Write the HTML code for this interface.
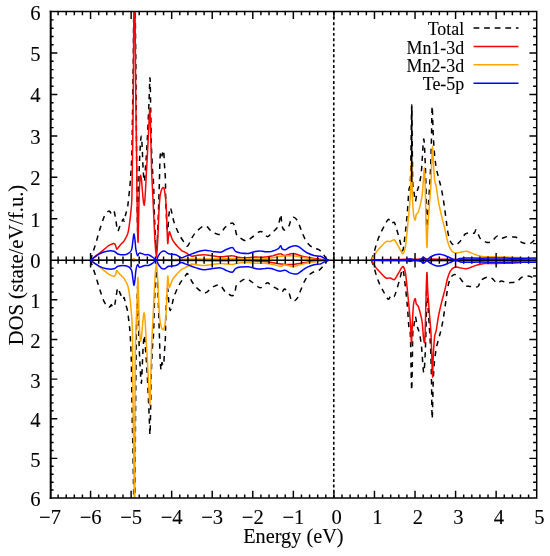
<!DOCTYPE html>
<html><head><meta charset="utf-8"><title>DOS</title>
<style>html,body{margin:0;padding:0;background:#fff}body{width:550px;height:556px;overflow:hidden}</style>
</head><body>
<svg width="550" height="556" viewBox="0 0 550 556" style="display:block">
<rect width="550" height="556" fill="#fff"/>
<defs>
<clipPath id="cu"><rect x="50.0" y="11.6" width="486.70000000000005" height="249.4"/></clipPath>
<clipPath id="cd"><rect x="50.0" y="259.4" width="486.70000000000005" height="238.60000000000002"/></clipPath>
</defs>
<g clip-path="url(#cu)">
<path d="M90.5 260.2 C90.9 258.9 92.1 255.1 93.0 252.2 C93.9 249.3 95.0 246.0 96.0 242.9 C96.9 239.7 97.8 236.2 98.7 233.1 C99.6 230.1 100.5 227.3 101.4 224.6 C102.3 221.9 103.1 219.1 104.0 217.1 C104.9 215.1 106.0 213.8 106.8 212.8 C107.5 211.8 107.9 211.3 108.5 211.1 C109.0 210.9 109.5 211.2 110.0 211.6 C110.4 212.0 110.9 213.6 111.3 213.6 C111.7 213.6 112.0 212.0 112.5 211.6 C112.9 211.2 113.5 210.5 114.0 211.1 C114.4 211.7 114.6 213.4 115.0 215.1 C115.3 216.8 115.5 218.4 116.0 221.1 C116.4 223.8 117.1 230.1 117.7 231.1 C118.2 232.1 118.8 228.5 119.5 227.1 C120.1 225.7 120.7 224.1 121.4 222.8 C122.0 221.5 122.7 219.4 123.2 219.1 C123.6 218.8 123.8 221.8 124.2 221.1 C124.5 220.4 124.9 217.5 125.5 215.1 C126.0 212.6 127.1 209.8 127.7 206.5 C128.2 203.1 128.5 199.0 129.0 195.0 C129.4 191.1 129.7 189.3 130.2 182.7 C130.6 176.1 131.4 167.6 131.8 155.4 C132.2 143.3 132.3 125.8 132.6 109.8 C132.8 93.9 133.0 77.2 133.3 59.7 C133.5 42.2 133.6 13.8 133.9 4.6 C134.2 -4.6 134.7 -4.6 135.1 4.6 C135.4 13.8 135.5 38.8 135.8 59.7 C136.0 80.6 136.2 108.2 136.4 129.9 C136.6 151.6 136.7 172.5 137.0 190.0 C137.2 207.6 137.5 233.5 137.8 235.1 C138.0 236.8 138.1 210.9 138.4 200.0 C138.6 189.2 138.9 178.7 139.2 170.0 C139.5 161.3 139.8 153.5 140.2 147.9 C140.5 142.3 141.0 136.0 141.4 136.3 C141.7 136.6 142.0 144.3 142.3 149.9 C142.6 155.5 142.8 164.7 143.2 170.0 C143.5 175.3 144.0 181.6 144.3 181.6 C144.7 181.6 144.9 176.5 145.3 170.0 C145.8 163.5 146.5 154.5 147.1 142.6 C147.8 130.7 148.7 109.6 149.1 98.8 C149.6 88.0 149.8 76.1 150.0 77.9 C150.3 79.8 150.5 99.0 150.7 109.8 C151.0 120.6 151.0 132.6 151.3 142.6 C151.6 152.6 152.2 163.3 152.5 170.0 C152.9 176.7 153.2 175.2 153.5 182.7 C153.9 190.2 154.0 203.8 154.4 215.1 C154.9 226.3 155.9 248.5 156.4 250.2 C157.0 251.8 157.5 234.5 157.9 225.1 C158.4 215.7 158.8 201.6 159.0 193.6 C159.3 185.7 159.4 183.4 159.5 177.3 C159.7 171.2 159.8 161.2 160.1 156.9 C160.4 152.6 161.0 151.7 161.3 151.5 C161.7 151.4 161.9 156.1 162.1 155.9 C162.4 155.8 162.7 150.9 162.9 150.4 C163.2 149.9 163.6 150.6 163.8 152.9 C164.1 155.2 164.2 160.1 164.4 164.2 C164.7 168.2 165.1 171.5 165.3 177.3 C165.6 183.1 165.5 191.6 165.7 199.0 C166.0 206.5 166.4 216.8 166.7 222.1 C167.1 227.4 167.4 231.8 167.7 230.6 C168.1 229.5 168.5 218.9 168.9 215.1 C169.4 211.3 169.7 208.0 170.2 207.7 C170.7 207.3 171.3 210.7 171.9 213.1 C172.6 215.4 172.7 218.1 173.9 221.7 C175.1 225.3 177.2 230.7 179.1 234.4 C181.1 238.2 184.1 242.3 185.5 244.2 C187.0 246.0 186.8 246.8 187.9 245.7 C189.0 244.5 190.8 239.8 192.2 237.4 C193.6 235.1 194.6 233.6 196.3 231.7 C198.1 229.9 201.1 227.3 202.8 226.4 C204.6 225.6 205.6 226.0 206.9 226.7 C208.3 227.5 209.6 229.7 211.0 230.8 C212.4 231.9 213.6 232.8 215.1 233.3 C216.6 233.9 218.4 235.1 220.0 234.1 C221.6 233.2 223.4 229.2 224.9 227.6 C226.4 226.0 227.7 225.4 228.9 224.6 C230.1 223.8 231.3 222.8 232.3 223.0 C233.3 223.2 234.0 224.1 234.7 225.9 C235.4 227.8 235.6 232.2 236.4 234.1 C237.2 236.1 238.0 236.3 239.6 237.4 C241.2 238.5 244.1 240.8 246.2 240.8 C248.2 240.8 249.8 238.9 251.9 237.4 C253.9 236.0 256.9 233.1 258.5 232.1 C260.1 231.2 260.6 231.3 261.7 231.7 C262.8 232.2 264.0 234.1 265.0 234.9 C266.0 235.8 266.8 236.9 267.9 236.6 C268.9 236.4 269.8 234.8 271.4 233.3 C272.9 231.8 275.8 229.7 277.2 227.6 C278.5 225.6 278.8 223.3 279.4 221.1 C280.0 218.9 280.3 213.7 280.8 214.5 C281.2 215.3 281.5 223.3 282.1 225.9 C282.7 228.5 283.4 229.9 284.5 230.0 C285.6 230.2 287.5 228.5 288.6 226.7 C289.7 224.9 290.2 221.0 291.1 219.4 C292.0 217.8 292.9 217.1 294.0 217.4 C295.1 217.7 296.4 219.0 297.6 221.0 C298.7 223.0 299.6 226.2 300.9 229.2 C302.1 232.2 303.6 236.5 305.0 239.0 C306.3 241.6 307.6 243.3 309.1 244.8 C310.6 246.3 312.3 247.3 314.0 248.1 C315.6 248.9 317.4 248.7 318.9 249.7 C320.4 250.6 321.7 252.3 323.0 253.8 C324.2 255.3 325.4 257.7 326.3 258.8 C327.1 259.9 327.6 260.0 327.9 260.2" fill="none" stroke="#000" stroke-width="1.5" stroke-linejoin="round" stroke-dasharray="5.3 4.9"/>
<path d="M371.3 260.2 C371.7 259.1 372.9 256.4 373.7 253.8 C374.5 251.2 375.3 247.8 376.2 244.8 C377.2 241.8 378.1 238.9 379.4 235.7 C380.8 232.6 382.8 228.6 384.3 225.9 C385.8 223.2 387.3 219.8 388.4 219.4 C389.5 219.0 390.0 223.0 390.9 223.5 C391.9 224.0 393.3 221.4 394.2 222.3 C395.2 223.3 395.7 226.1 396.6 229.2 C397.6 232.3 398.9 237.2 399.9 240.8 C400.9 244.3 401.9 251.1 402.7 250.6 C403.5 250.0 404.0 243.7 404.8 237.4 C405.6 231.1 406.6 220.7 407.3 212.8 C408.0 204.9 408.4 195.0 408.9 190.0 C409.4 185.1 410.0 189.7 410.3 183.0 C410.7 176.3 410.8 163.0 411.0 149.9 C411.2 136.9 411.5 104.8 411.7 104.8 C411.9 104.8 412.1 136.7 412.3 149.9 C412.5 163.1 412.5 177.0 412.8 184.0 C413.1 191.0 413.6 189.1 414.0 192.0 C414.4 194.9 414.9 201.4 415.4 201.4 C415.9 201.3 416.4 194.5 417.1 191.5 C417.8 188.5 418.8 186.9 419.5 183.3 C420.2 179.7 420.8 177.3 421.5 170.0 C422.2 162.6 423.1 139.9 423.7 139.1 C424.3 138.3 424.9 154.8 425.3 165.0 C425.7 175.1 426.0 188.9 426.3 200.0 C426.5 211.2 426.5 229.6 426.8 232.1 C427.0 234.6 427.4 221.1 427.8 215.1 C428.2 209.1 428.5 203.6 429.0 196.0 C429.4 188.5 430.1 179.3 430.5 170.0 C430.9 160.6 431.1 150.5 431.4 139.9 C431.7 129.3 431.8 106.3 432.2 106.3 C432.5 106.3 432.9 130.1 433.5 139.9 C434.1 149.7 434.8 158.3 435.8 165.0 C436.7 171.6 438.2 175.9 439.2 180.0 C440.2 184.1 440.8 185.7 441.6 189.8 C442.4 193.9 443.3 199.1 444.1 204.6 C444.9 210.0 445.9 218.0 446.5 222.6 C447.1 227.2 447.2 228.8 447.8 231.9 C448.4 235.0 449.2 238.9 450.3 241.2 C451.4 243.4 453.0 245.2 454.5 245.4 C456.0 245.5 457.7 244.0 459.5 242.1 C461.3 240.1 463.4 235.5 465.4 233.9 C467.3 232.4 469.7 233.0 471.2 232.8 C472.7 232.7 473.4 233.6 474.3 233.1 C475.1 232.6 475.4 229.5 476.2 229.8 C476.9 230.2 477.8 233.7 478.7 235.3 C479.5 237.0 479.8 238.4 481.2 239.5 C482.6 240.7 485.3 242.1 487.1 242.4 C488.9 242.6 490.4 242.2 492.1 241.2 C493.7 240.1 495.5 236.6 497.1 236.1 C498.6 235.7 499.6 238.3 501.3 238.3 C502.9 238.4 505.2 236.9 507.2 236.6 C509.1 236.4 511.3 236.8 513.0 237.0 C514.6 237.2 515.8 237.0 517.2 237.8 C518.5 238.7 519.8 241.1 521.3 242.1 C522.9 243.0 524.7 243.5 526.3 243.7 C528.0 243.8 529.7 243.8 531.3 242.9 C533.0 241.9 535.4 238.9 536.2 238.1" fill="none" stroke="#000" stroke-width="1.5" stroke-linejoin="round" stroke-dasharray="5.3 4.9"/>
<path d="M90.5 260.2 C91.4 259.4 93.9 257.4 96.0 255.7 C98.1 254.0 101.1 251.8 103.2 250.2 C105.3 248.5 107.2 246.7 108.6 245.7 C110.0 244.7 110.6 244.5 111.5 244.2 C112.4 243.8 113.3 243.3 114.0 243.5 C114.6 243.6 115.0 244.2 115.5 245.2 C115.9 246.1 116.3 248.8 116.8 249.2 C117.3 249.5 117.7 248.1 118.5 247.2 C119.2 246.3 120.4 244.8 121.4 243.8 C122.3 242.8 122.9 242.8 124.0 241.2 C125.0 239.5 126.8 236.2 127.7 233.7 C128.5 231.2 128.7 229.1 129.2 226.1 C129.6 223.1 130.0 219.9 130.5 215.6 C130.9 211.2 131.5 207.7 131.8 200.0 C132.1 192.4 132.1 181.7 132.3 170.0 C132.4 158.3 132.7 146.6 132.9 129.9 C133.1 113.2 133.3 90.6 133.5 69.7 C133.6 48.8 133.7 15.4 134.0 4.6 C134.2 -6.3 134.7 -6.3 135.0 4.6 C135.2 15.4 135.3 48.8 135.5 69.7 C135.7 90.6 135.9 113.2 136.2 129.9 C136.4 146.6 136.6 155.8 136.8 170.0 C136.9 184.2 137.1 203.1 137.3 215.1 C137.5 227.1 137.8 240.5 138.0 242.2 C138.2 243.8 138.3 233.0 138.5 225.1 C138.7 217.3 138.9 202.6 139.2 195.0 C139.4 187.5 139.7 183.3 140.0 180.0 C140.2 176.7 140.4 175.3 140.7 175.3 C140.9 175.3 141.2 177.2 141.5 180.0 C141.8 182.8 142.1 188.2 142.5 192.0 C142.8 195.9 143.3 201.0 143.6 203.1 C144.0 205.1 144.1 205.9 144.3 204.6 C144.6 203.2 144.9 200.5 145.2 195.0 C145.6 189.6 146.0 180.3 146.4 172.0 C146.9 163.6 147.5 153.6 147.9 144.9 C148.4 136.2 148.8 125.9 149.1 119.8 C149.5 113.8 149.6 108.0 149.8 108.8 C150.1 109.7 150.2 114.7 150.5 124.9 C150.8 135.1 151.3 159.1 151.6 170.0 C152.0 180.8 152.2 183.3 152.5 190.0 C152.9 196.7 153.1 201.7 153.5 210.1 C153.9 218.4 154.5 232.3 154.9 240.1 C155.4 248.0 156.0 257.2 156.4 257.2 C156.9 257.2 157.3 248.0 157.7 240.1 C158.2 232.3 158.6 217.5 159.0 210.1 C159.4 202.7 159.7 199.3 160.1 195.8 C160.6 192.4 161.2 190.7 161.7 189.3 C162.3 188.0 163.1 186.9 163.6 187.6 C164.2 188.3 164.6 190.8 165.0 193.6 C165.5 196.5 165.8 199.3 166.1 204.6 C166.5 209.8 166.7 218.7 166.9 225.1 C167.2 231.5 167.5 241.0 167.7 243.2 C168.0 245.3 168.1 240.0 168.3 238.1 C168.6 236.3 168.9 232.6 169.2 231.9 C169.6 231.3 169.9 232.9 170.4 234.1 C170.9 235.3 171.6 237.7 172.2 239.1 C172.9 240.6 173.5 241.4 174.4 242.7 C175.3 243.9 176.4 245.2 177.6 246.6 C178.8 247.9 180.5 249.7 181.7 250.7 C182.9 251.6 183.6 251.4 184.9 252.2 C186.3 252.9 188.6 254.5 189.7 255.2 C190.9 255.9 190.8 256.1 191.9 256.2 C193.0 256.2 194.2 255.7 196.3 255.5 C198.4 255.2 201.7 254.6 204.4 254.7 C207.1 254.7 209.9 255.4 212.6 255.8 C215.3 256.1 217.5 256.8 220.8 256.8 C224.1 256.8 229.6 255.7 232.3 255.8 C235.0 255.8 235.0 256.7 237.2 257.1 C239.4 257.4 242.4 257.9 245.4 257.9 C248.4 257.9 251.9 257.2 255.2 257.1 C258.4 257.0 261.9 257.3 264.9 257.1 C267.9 256.9 270.5 256.3 273.1 255.8 C275.7 255.2 278.5 253.8 280.4 253.8 C282.3 253.7 282.4 255.5 284.5 255.5 C286.5 255.4 290.2 253.5 292.7 253.5 C295.1 253.4 297.1 254.6 299.3 255.2 C301.4 255.8 303.3 256.6 305.8 257.1 C308.2 257.6 311.2 258.0 314.0 258.4 C316.7 258.8 319.7 259.3 322.2 259.6 C324.6 259.9 327.6 260.1 328.7 260.2" fill="none" stroke="#ff0000" stroke-width="1.5" stroke-linejoin="round"/>
<path d="M371.3 260.2 C372.7 260.1 375.1 259.8 379.8 259.7 C384.6 259.6 394.8 259.6 399.8 259.5 C404.8 259.4 406.5 259.2 409.8 259.2 C413.1 259.1 416.5 259.2 419.8 259.2 C423.1 259.2 426.5 259.0 429.8 259.0 C433.1 259.0 436.5 259.1 439.8 259.2 C443.1 259.3 444.8 259.3 449.8 259.4 C454.8 259.4 461.4 259.5 469.8 259.5 C478.1 259.5 488.7 259.5 499.8 259.5 C510.8 259.5 530.2 259.5 536.2 259.5" fill="none" stroke="#ff0000" stroke-width="1.5" stroke-linejoin="round"/>
<path d="M90.5 260.2 C93.7 260.2 103.4 260.1 110.0 260.1 C116.5 260.1 126.2 260.1 130.0 260.0 C132.5 259.9 131.8 259.9 132.5 259.7 C133.1 259.4 133.5 258.5 134.0 258.5 C134.5 258.5 134.5 259.4 135.5 259.7 C136.5 259.9 137.5 260.0 140.0 260.0 C142.4 260.0 146.3 259.9 149.9 259.9 C153.6 259.9 158.3 259.8 161.9 259.8 C165.6 259.8 168.9 259.8 171.9 259.7 C174.9 259.6 175.3 259.4 179.9 259.3 C184.6 259.2 193.3 259.1 199.9 259.0 C206.6 258.9 213.2 258.7 219.9 258.7 C226.6 258.7 232.4 259.0 239.9 259.0 C247.4 259.0 258.0 259.2 264.9 258.8 C271.8 258.3 276.6 256.8 281.3 256.3 C285.9 255.8 289.4 255.7 292.7 255.8 C295.9 255.9 297.3 256.5 300.9 257.1 C304.4 257.7 309.5 258.7 314.0 259.2 C318.5 259.7 325.5 260.0 327.9 260.2" fill="none" stroke="#ffa500" stroke-width="1.5" stroke-linejoin="round"/>
<path d="M371.3 260.2 C372.1 258.9 374.6 254.5 376.2 252.2 C377.9 249.9 379.5 248.2 381.1 246.5 C382.8 244.7 384.5 242.4 386.0 241.6 C387.5 240.7 388.8 241.8 390.1 241.6 C391.5 241.3 393.1 239.6 394.2 239.8 C395.3 240.1 395.5 241.4 396.6 243.2 C397.7 244.9 399.6 248.9 400.7 250.6 C401.8 252.3 402.4 254.3 403.2 253.5 C404.0 252.7 404.8 251.1 405.6 245.7 C406.4 240.3 407.3 229.8 408.1 221.0 C408.9 212.2 410.0 203.1 410.5 193.1 C411.1 183.2 411.1 161.8 411.4 161.3 C411.7 160.7 411.9 181.4 412.2 190.0 C412.5 198.6 412.9 207.8 413.4 212.8 C413.9 217.8 414.6 219.8 415.1 220.1 C415.6 220.4 415.8 215.7 416.3 214.5 C416.8 213.3 417.4 213.9 417.9 212.8 C418.4 211.7 418.8 210.6 419.5 207.9 C420.2 205.1 421.4 201.1 422.0 196.4 C422.7 191.8 423.0 184.8 423.4 180.0 C423.8 175.2 424.0 167.8 424.3 167.8 C424.6 167.8 424.7 171.3 425.0 180.0 C425.3 188.7 425.7 208.9 426.0 220.1 C426.3 231.3 426.6 245.7 426.9 247.3 C427.2 248.8 427.3 236.3 427.7 229.2 C428.1 222.1 428.9 211.9 429.4 204.6 C429.9 197.2 430.5 192.4 430.9 185.0 C431.3 177.6 431.5 166.5 431.8 159.9 C432.1 153.4 432.2 145.9 432.5 145.9 C432.7 145.9 432.9 154.3 433.3 159.9 C433.6 165.6 434.1 175.5 434.6 180.0 C435.1 184.5 435.7 183.5 436.3 187.0 C436.9 190.6 437.5 196.5 438.4 201.4 C439.3 206.2 440.5 211.4 441.6 216.1 C442.7 220.7 443.9 225.1 444.9 229.2 C445.9 233.3 446.5 237.5 447.4 240.8 C448.3 244.0 449.1 246.7 450.3 248.8 C451.5 250.8 453.0 252.3 454.5 252.9 C456.0 253.5 457.5 252.6 459.5 252.4 C461.4 252.1 464.2 251.2 466.2 251.3 C468.1 251.4 469.2 252.2 471.2 252.9 C473.1 253.6 475.6 254.8 477.9 255.5 C480.1 256.1 481.5 256.6 484.6 256.8 C487.6 257.0 492.6 256.7 496.3 256.8 C499.9 256.8 502.6 257.0 506.3 257.1 C509.9 257.2 514.6 257.2 518.0 257.5 C521.3 257.8 523.3 258.6 526.3 258.8 C529.4 259.0 534.6 258.8 536.2 258.8" fill="none" stroke="#ffa500" stroke-width="1.5" stroke-linejoin="round"/>
<path d="M333.76 11.6 V260.2" stroke="#000" stroke-width="1.6" stroke-dasharray="2.9 2.44" fill="none"/>
<path d="M411.74 105.5 V182" stroke="#000" stroke-width="1.5" fill="none"/>
</g>
<g clip-path="url(#cd)">
<path d="M90.5 260.2 C90.9 261.5 92.1 265.1 93.0 267.9 C93.9 270.6 95.0 273.8 96.0 276.8 C96.9 279.8 97.8 283.2 98.7 286.1 C99.6 289.0 100.5 291.7 101.4 294.2 C102.3 296.8 103.1 299.5 104.0 301.4 C104.9 303.3 106.0 304.6 106.8 305.6 C107.5 306.5 107.9 307.0 108.5 307.2 C109.0 307.4 109.5 307.1 110.0 306.7 C110.4 306.3 110.9 304.8 111.3 304.8 C111.7 304.8 112.0 306.3 112.5 306.7 C112.9 307.1 113.5 307.7 114.0 307.2 C114.4 306.6 114.6 305.0 115.0 303.4 C115.3 301.8 115.5 300.2 116.0 297.6 C116.4 295.0 117.1 289.0 117.7 288.0 C118.2 287.1 118.8 290.5 119.5 291.8 C120.1 293.2 120.7 294.7 121.4 296.0 C122.0 297.2 122.7 299.2 123.2 299.5 C123.6 299.8 123.8 297.0 124.2 297.6 C124.5 298.2 124.9 301.0 125.5 303.4 C126.0 305.7 127.1 308.4 127.7 311.6 C128.2 314.8 128.5 318.7 129.0 322.5 C129.4 326.3 129.8 328.0 130.2 334.3 C130.5 340.6 131.0 348.8 131.3 360.4 C131.6 372.0 131.7 388.8 132.0 404.0 C132.2 419.3 132.6 435.2 133.0 452.0 C133.3 468.8 133.6 495.9 134.0 504.7 C134.3 513.5 134.7 513.5 135.0 504.7 C135.2 495.9 135.1 472.0 135.3 452.0 C135.4 432.0 135.6 405.6 135.8 384.9 C136.0 364.1 136.1 344.1 136.5 327.3 C136.8 310.5 137.4 285.8 137.8 284.2 C138.1 282.6 138.1 307.3 138.4 317.7 C138.6 328.1 138.9 338.2 139.2 346.5 C139.5 354.8 139.8 361.5 140.2 367.6 C140.5 373.7 141.0 383.5 141.4 383.1 C141.7 382.8 142.0 371.8 142.3 365.7 C142.6 359.6 142.8 351.6 143.2 346.5 C143.5 341.5 144.0 335.4 144.3 335.4 C144.7 335.4 144.9 340.3 145.3 346.5 C145.8 352.7 146.5 361.3 147.1 372.7 C147.8 384.0 148.7 404.3 149.1 414.6 C149.6 424.9 149.8 436.3 150.0 434.5 C150.3 432.8 150.5 414.4 150.7 404.0 C151.0 393.7 151.0 382.3 151.3 372.7 C151.6 363.1 152.2 352.9 152.5 346.5 C152.9 340.1 153.2 341.5 153.5 334.3 C153.9 327.1 154.0 314.1 154.4 303.4 C154.9 292.6 155.9 271.4 156.4 269.8 C157.0 268.2 157.5 284.7 157.9 293.8 C158.4 302.8 158.8 316.3 159.0 323.9 C159.3 331.5 159.4 333.7 159.5 339.5 C159.7 345.4 159.9 353.9 160.1 359.0 C160.4 364.1 160.8 369.4 161.1 370.0 C161.4 370.6 161.6 363.6 161.9 362.8 C162.2 362.0 162.6 365.2 162.9 365.2 C163.3 365.2 163.6 365.0 163.8 362.8 C164.1 360.6 164.2 356.0 164.4 352.1 C164.7 348.2 165.1 345.1 165.3 339.5 C165.6 333.9 165.5 325.8 165.7 318.7 C166.0 311.6 166.4 301.7 166.7 296.6 C167.1 291.6 167.4 287.4 167.7 288.5 C168.1 289.6 168.5 299.7 168.9 303.4 C169.4 307.0 169.7 310.1 170.2 310.4 C170.7 310.8 171.3 307.5 171.9 305.3 C172.6 303.0 172.7 300.4 173.9 297.0 C175.1 293.6 177.2 288.4 179.1 284.8 C181.1 281.3 184.1 277.3 185.5 275.5 C187.0 273.8 186.8 273.0 187.9 274.1 C189.0 275.2 190.8 279.7 192.2 282.0 C193.6 284.2 194.6 285.7 196.3 287.4 C198.1 289.2 201.1 291.7 202.8 292.5 C204.6 293.3 205.6 292.9 206.9 292.2 C208.3 291.5 209.6 289.4 211.0 288.3 C212.4 287.2 213.6 286.4 215.1 285.9 C216.6 285.4 218.4 284.2 220.0 285.1 C221.6 286.0 223.4 289.8 224.9 291.4 C226.4 292.9 227.7 293.5 228.9 294.2 C230.1 295.0 231.3 296.0 232.3 295.8 C233.3 295.6 234.0 294.8 234.7 293.0 C235.4 291.2 235.6 287.0 236.4 285.1 C237.2 283.3 238.0 283.0 239.6 282.0 C241.2 280.9 244.1 278.8 246.2 278.8 C248.2 278.8 249.8 280.6 251.9 282.0 C253.9 283.3 256.9 286.1 258.5 287.1 C260.1 288.0 260.6 287.9 261.7 287.4 C262.8 287.0 264.0 285.1 265.0 284.4 C266.0 283.6 266.8 282.5 267.9 282.7 C268.9 283.0 269.8 284.9 271.4 285.9 C272.9 286.9 275.7 287.8 277.2 288.8 C278.7 289.8 279.4 291.6 280.4 291.9 C281.3 292.3 282.2 291.6 282.9 291.1 C283.6 290.6 283.5 288.9 284.5 289.1 C285.4 289.3 287.5 290.5 288.6 292.2 C289.7 293.9 290.2 297.7 291.1 299.2 C292.0 300.7 292.9 301.4 294.0 301.1 C295.1 300.9 296.4 299.6 297.6 297.7 C298.7 295.8 299.6 292.7 300.9 289.8 C302.1 287.0 303.6 282.9 305.0 280.4 C306.3 278.0 307.6 276.4 309.1 275.0 C310.6 273.5 312.3 272.6 314.0 271.8 C315.6 271.0 317.4 271.2 318.9 270.3 C320.4 269.4 321.7 267.8 323.0 266.3 C324.2 264.9 325.4 262.6 326.3 261.5 C327.1 260.5 327.6 260.4 327.9 260.2" fill="none" stroke="#000" stroke-width="1.5" stroke-linejoin="round" stroke-dasharray="5.3 4.9"/>
<path d="M371.3 260.2 C371.7 261.2 372.9 263.9 373.7 266.3 C374.5 268.8 375.3 272.1 376.2 275.0 C377.2 277.8 378.1 280.6 379.4 283.6 C380.8 286.6 382.8 290.4 384.3 293.0 C385.8 295.6 387.3 298.8 388.4 299.2 C389.5 299.6 390.0 295.8 390.9 295.3 C391.9 294.8 393.3 297.4 394.2 296.4 C395.2 295.5 395.7 292.8 396.6 289.8 C397.6 286.9 398.9 282.2 399.9 278.8 C400.9 275.4 401.9 268.9 402.7 269.4 C403.5 269.9 404.0 275.9 404.8 282.0 C405.6 288.0 406.6 298.0 407.3 305.6 C408.0 313.1 408.4 322.6 408.9 327.3 C409.4 332.1 410.0 327.6 410.3 334.0 C410.7 340.4 410.8 356.3 411.0 365.7 C411.2 375.1 411.5 390.2 411.7 390.2 C411.9 390.2 412.1 375.2 412.3 365.7 C412.5 356.2 412.5 339.8 412.8 333.1 C413.1 326.4 413.6 328.2 414.0 325.4 C414.4 322.6 414.9 316.4 415.4 316.5 C415.9 316.6 416.4 323.0 417.1 325.9 C417.8 328.8 418.8 330.3 419.5 333.8 C420.2 337.2 420.8 340.1 421.5 346.5 C422.2 352.9 423.1 371.6 423.7 372.4 C424.3 373.2 424.9 360.4 425.3 351.3 C425.7 342.2 426.0 328.4 426.3 317.7 C426.5 307.0 426.5 289.4 426.8 287.1 C427.0 284.7 427.4 297.6 427.8 303.4 C428.2 309.1 428.5 314.4 429.0 321.6 C429.4 328.8 430.1 337.6 430.5 346.5 C430.9 355.5 431.1 363.2 431.4 375.3 C431.7 387.3 431.8 418.7 432.2 418.7 C432.5 418.7 432.9 386.5 433.5 375.3 C434.1 364.0 434.8 357.7 435.8 351.3 C436.7 344.9 438.2 340.9 439.2 336.9 C440.2 333.0 440.8 331.4 441.6 327.5 C442.4 323.6 443.3 318.6 444.1 313.4 C444.9 308.2 445.9 300.5 446.5 296.2 C447.1 291.8 447.2 290.2 447.8 287.2 C448.4 284.3 449.2 280.6 450.3 278.4 C451.4 276.3 453.0 274.5 454.5 274.4 C456.0 274.2 457.7 275.7 459.5 277.6 C461.3 279.4 463.8 283.9 465.4 285.3 C466.9 286.8 467.4 286.0 468.8 286.2 C470.1 286.4 471.8 286.6 473.4 286.7 C474.9 286.7 476.8 287.4 478.0 286.5 C479.1 285.6 479.7 282.4 480.3 281.3 C480.8 280.2 480.3 280.6 481.2 280.0 C482.3 279.3 485.3 277.5 487.1 277.3 C488.9 277.0 490.4 277.4 492.1 278.4 C493.7 279.4 495.5 282.8 497.1 283.2 C498.6 283.7 499.6 281.2 501.3 281.1 C502.9 281.0 505.2 282.5 507.2 282.7 C509.1 282.9 511.3 282.5 513.0 282.4 C514.6 282.2 515.8 282.4 517.2 281.6 C518.5 280.8 519.8 278.5 521.3 277.6 C522.9 276.6 524.7 276.2 526.3 276.0 C528.0 275.9 529.7 275.9 531.3 276.8 C533.0 277.7 535.4 280.5 536.2 281.3" fill="none" stroke="#000" stroke-width="1.5" stroke-linejoin="round" stroke-dasharray="5.3 4.9"/>
<path d="M90.5 260.2 C93.7 260.2 103.4 260.2 110.0 260.2 C116.5 260.2 126.2 260.2 130.0 260.3 C132.5 260.3 131.8 260.3 132.5 260.4 C133.1 260.5 133.5 260.8 134.0 260.8 C134.5 260.8 134.5 260.5 135.5 260.4 C136.5 260.3 137.5 260.3 140.0 260.3 C142.4 260.3 146.3 260.3 149.9 260.3 C153.6 260.3 158.3 260.3 161.9 260.3 C165.6 260.3 168.9 260.3 171.9 260.4 C174.9 260.4 175.3 260.5 179.9 260.5 C184.6 260.5 193.3 260.6 199.9 260.6 C206.6 260.6 213.2 260.7 219.9 260.7 C226.6 260.7 232.4 260.5 239.9 260.6 C247.4 260.7 258.0 261.0 264.9 261.5 C271.8 262.1 276.6 263.5 281.3 263.9 C285.9 264.4 289.4 264.5 292.7 264.4 C295.9 264.3 297.3 263.7 300.9 263.2 C304.4 262.6 309.5 261.7 314.0 261.2 C318.5 260.7 325.5 260.4 327.9 260.2" fill="none" stroke="#ff0000" stroke-width="1.5" stroke-linejoin="round"/>
<path d="M371.3 260.2 C372.1 261.5 374.6 265.7 376.2 267.9 C377.9 270.1 379.5 271.6 381.1 273.3 C382.8 275.0 384.5 277.3 386.0 278.0 C387.5 278.8 388.8 277.8 390.1 278.0 C391.5 278.3 393.1 279.9 394.2 279.7 C395.3 279.4 395.5 278.2 396.6 276.5 C397.7 274.8 399.6 271.1 400.7 269.4 C401.8 267.8 402.4 265.8 403.2 266.6 C404.0 267.4 404.8 268.9 405.6 274.1 C406.4 279.3 407.3 289.3 408.1 297.7 C408.9 306.1 410.0 316.7 410.5 324.4 C411.1 332.0 411.1 342.9 411.4 343.4 C411.7 343.9 411.9 333.6 412.2 327.3 C412.5 321.0 412.9 310.4 413.4 305.6 C413.9 300.8 414.6 298.8 415.1 298.6 C415.6 298.3 415.8 302.8 416.3 303.9 C416.8 305.1 417.4 304.5 417.9 305.6 C418.4 306.6 418.8 307.7 419.5 310.3 C420.2 312.9 421.4 316.7 422.0 321.2 C422.7 325.6 423.0 333.3 423.4 336.9 C423.8 340.5 424.0 342.7 424.3 342.7 C424.6 342.7 424.7 344.3 425.0 336.9 C425.3 329.6 425.7 309.3 426.0 298.6 C426.3 287.8 426.6 274.0 426.9 272.6 C427.2 271.1 427.3 283.0 427.7 289.8 C428.1 296.6 428.9 306.4 429.4 313.4 C429.9 320.5 430.5 325.0 430.9 332.1 C431.3 339.2 431.5 348.5 431.8 356.1 C432.1 363.7 432.2 377.5 432.5 377.5 C432.7 377.5 432.9 362.9 433.3 356.1 C433.6 349.3 434.1 341.2 434.6 336.9 C435.1 332.6 435.7 333.6 436.3 330.2 C436.9 326.8 437.5 321.1 438.4 316.5 C439.3 311.9 440.5 306.8 441.6 302.4 C442.7 298.0 443.9 293.8 444.9 289.8 C445.9 285.9 446.5 281.9 447.4 278.8 C448.3 275.7 449.1 273.1 450.3 271.1 C451.5 269.2 453.0 267.8 454.5 267.2 C456.0 266.6 457.5 267.4 459.5 267.7 C461.4 267.9 464.2 268.8 466.2 268.7 C468.1 268.7 469.2 267.9 471.2 267.2 C473.1 266.5 475.6 265.3 477.9 264.7 C480.1 264.1 481.5 263.7 484.6 263.5 C487.6 263.3 492.6 263.5 496.3 263.5 C499.9 263.4 502.6 263.3 506.3 263.2 C509.9 263.1 514.6 263.1 518.0 262.8 C521.3 262.5 523.3 261.8 526.3 261.5 C529.4 261.3 534.6 261.5 536.2 261.5" fill="none" stroke="#ff0000" stroke-width="1.5" stroke-linejoin="round"/>
<path d="M90.5 260.2 C91.4 260.9 93.9 262.9 96.0 264.5 C98.1 266.1 101.1 268.2 103.2 269.8 C105.3 271.4 107.2 273.1 108.6 274.1 C110.0 275.1 110.6 275.2 111.5 275.5 C112.4 275.9 113.3 276.4 114.0 276.2 C114.6 276.1 115.0 275.5 115.5 274.6 C115.9 273.7 116.3 271.1 116.8 270.7 C117.3 270.4 117.7 271.8 118.5 272.7 C119.2 273.5 120.4 275.0 121.4 275.9 C122.3 276.9 122.9 276.8 124.0 278.4 C125.0 280.0 126.8 283.1 127.7 285.5 C128.5 287.9 128.7 289.9 129.2 292.8 C129.6 295.7 130.0 298.7 130.5 302.9 C130.9 307.0 131.4 313.3 131.8 317.7 C132.1 322.2 132.2 324.9 132.4 329.7 C132.5 334.5 132.5 338.1 132.6 346.5 C132.6 354.9 132.6 364.1 132.8 380.1 C132.9 396.1 133.3 422.7 133.6 442.4 C133.8 462.1 134.1 487.6 134.3 498.0 C134.4 508.4 134.4 503.6 134.5 504.7 C134.5 505.9 134.6 505.9 134.7 504.7 C134.7 503.6 134.7 508.4 134.8 498.0 C134.8 487.6 134.9 462.1 135.0 442.4 C135.0 422.7 135.0 396.1 135.1 380.1 C135.1 364.1 135.2 354.9 135.4 346.5 C135.5 338.1 135.7 336.1 136.0 329.7 C136.2 323.3 136.5 314.9 136.8 308.1 C137.0 301.4 137.3 294.1 137.5 289.0 C137.7 283.9 137.8 276.7 138.0 277.5 C138.1 278.3 138.3 286.3 138.5 293.8 C138.7 301.3 138.9 315.3 139.2 322.5 C139.4 329.7 139.7 333.8 140.0 336.9 C140.2 340.1 140.4 341.4 140.7 341.4 C140.9 341.4 141.2 339.6 141.5 336.9 C141.8 334.2 142.1 329.1 142.5 325.4 C142.8 321.7 143.3 316.9 143.6 314.9 C144.0 312.9 144.1 312.1 144.3 313.4 C144.6 314.7 144.9 317.3 145.2 322.5 C145.6 327.7 146.0 336.6 146.4 344.6 C146.9 352.6 147.5 362.2 147.9 370.5 C148.4 378.8 148.8 388.7 149.1 394.5 C149.5 400.2 149.6 405.8 149.8 405.0 C150.1 404.2 150.2 399.4 150.5 389.7 C150.8 379.9 151.3 356.9 151.6 346.5 C152.0 336.1 152.2 333.7 152.5 327.3 C152.9 320.9 153.1 316.1 153.5 308.1 C153.9 300.2 154.5 286.9 154.9 279.4 C155.4 271.9 156.0 263.1 156.4 263.1 C156.9 263.1 157.3 271.9 157.7 279.4 C158.2 286.9 158.6 301.1 159.0 308.1 C159.4 315.2 159.7 318.5 160.1 321.8 C160.6 325.1 161.2 326.7 161.7 328.0 C162.3 329.3 163.1 330.3 163.6 329.6 C164.2 328.9 164.6 326.6 165.0 323.9 C165.5 321.2 165.8 318.4 166.1 313.4 C166.5 308.4 166.7 299.9 166.9 293.8 C167.2 287.6 167.5 278.6 167.7 276.5 C168.0 274.4 168.1 279.5 168.3 281.3 C168.6 283.1 168.9 286.6 169.2 287.2 C169.6 287.9 169.9 286.3 170.4 285.1 C170.9 284.0 171.6 281.7 172.2 280.3 C172.9 279.0 173.5 278.2 174.4 277.0 C175.3 275.8 176.4 274.5 177.6 273.2 C178.8 272.0 180.5 270.2 181.7 269.3 C182.9 268.4 183.6 268.6 184.9 267.9 C186.3 267.2 188.6 265.6 189.7 265.0 C190.9 264.4 190.8 264.1 191.9 264.0 C193.0 264.0 194.2 264.5 196.3 264.7 C198.4 264.9 201.7 265.5 204.4 265.5 C207.1 265.4 209.9 264.8 212.6 264.4 C215.3 264.1 217.5 263.5 220.8 263.5 C224.1 263.5 229.6 264.5 232.3 264.4 C235.0 264.4 235.0 263.5 237.2 263.2 C239.4 262.8 242.4 262.4 245.4 262.4 C248.4 262.4 251.9 263.0 255.2 263.2 C258.4 263.3 261.9 263.0 264.9 263.2 C267.9 263.4 270.5 263.9 273.1 264.4 C275.7 264.9 278.5 266.3 280.4 266.3 C282.3 266.4 282.4 264.7 284.5 264.7 C286.5 264.8 290.2 266.6 292.7 266.6 C295.1 266.7 297.1 265.6 299.3 265.0 C301.4 264.4 303.3 263.7 305.8 263.2 C308.2 262.7 311.2 262.3 314.0 261.9 C316.7 261.5 319.7 261.1 322.2 260.8 C324.6 260.5 327.6 260.3 328.7 260.2" fill="none" stroke="#ffa500" stroke-width="1.5" stroke-linejoin="round"/>
<path d="M371.3 260.2 C372.7 260.3 375.1 260.6 379.8 260.7 C384.6 260.8 394.8 260.8 399.8 260.9 C404.8 261.0 406.5 261.1 409.8 261.2 C413.1 261.2 416.5 261.1 419.8 261.2 C423.1 261.2 426.5 261.4 429.8 261.4 C433.1 261.4 436.5 261.2 439.8 261.2 C443.1 261.1 444.8 261.0 449.8 261.0 C454.8 260.9 461.4 260.9 469.8 260.9 C478.1 260.9 488.7 260.9 499.8 260.9 C510.8 260.9 530.2 260.9 536.2 260.9" fill="none" stroke="#ffa500" stroke-width="1.5" stroke-linejoin="round"/>
<path d="M333.76 260.2 V498.0" stroke="#000" stroke-width="1.6" stroke-dasharray="2.9 2.44" fill="none"/>
</g>
<path d="M49.7 11.6 H536.7 V498.0 H49.7" fill="none" stroke="#000" stroke-width="1.5" stroke-linejoin="miter"/>
<path d="M50.7 10.85 V498.75" stroke="#000" stroke-width="2" fill="none"/>
<path d="M50.0 260.2 H536.7" stroke="#000" stroke-width="1.4" fill="none"/>
<path d="M58.11 498.00 v-3.60 M58.11 11.60 v3.60 M58.11 256.60 v7.20 M66.22 498.00 v-3.60 M66.22 11.60 v3.60 M66.22 256.60 v7.20 M74.33 498.00 v-3.60 M74.33 11.60 v3.60 M74.33 256.60 v7.20 M82.45 498.00 v-3.60 M82.45 11.60 v3.60 M82.45 256.60 v7.20 M90.56 498.00 v-7.30 M90.56 11.60 v7.30 M90.56 252.90 v14.60 M98.67 498.00 v-3.60 M98.67 11.60 v3.60 M98.67 256.60 v7.20 M106.78 498.00 v-3.60 M106.78 11.60 v3.60 M106.78 256.60 v7.20 M114.89 498.00 v-3.60 M114.89 11.60 v3.60 M114.89 256.60 v7.20 M123.00 498.00 v-3.60 M123.00 11.60 v3.60 M123.00 256.60 v7.20 M131.12 498.00 v-7.30 M131.12 11.60 v7.30 M131.12 252.90 v14.60 M139.23 498.00 v-3.60 M139.23 11.60 v3.60 M139.23 256.60 v7.20 M147.34 498.00 v-3.60 M147.34 11.60 v3.60 M147.34 256.60 v7.20 M155.45 498.00 v-3.60 M155.45 11.60 v3.60 M155.45 256.60 v7.20 M163.56 498.00 v-3.60 M163.56 11.60 v3.60 M163.56 256.60 v7.20 M171.68 498.00 v-7.30 M171.68 11.60 v7.30 M171.68 252.90 v14.60 M179.79 498.00 v-3.60 M179.79 11.60 v3.60 M179.79 256.60 v7.20 M187.90 498.00 v-3.60 M187.90 11.60 v3.60 M187.90 256.60 v7.20 M196.01 498.00 v-3.60 M196.01 11.60 v3.60 M196.01 256.60 v7.20 M204.12 498.00 v-3.60 M204.12 11.60 v3.60 M204.12 256.60 v7.20 M212.23 498.00 v-7.30 M212.23 11.60 v7.30 M212.23 252.90 v14.60 M220.35 498.00 v-3.60 M220.35 11.60 v3.60 M220.35 256.60 v7.20 M228.46 498.00 v-3.60 M228.46 11.60 v3.60 M228.46 256.60 v7.20 M236.57 498.00 v-3.60 M236.57 11.60 v3.60 M236.57 256.60 v7.20 M244.68 498.00 v-3.60 M244.68 11.60 v3.60 M244.68 256.60 v7.20 M252.79 498.00 v-7.30 M252.79 11.60 v7.30 M252.79 252.90 v14.60 M260.90 498.00 v-3.60 M260.90 11.60 v3.60 M260.90 256.60 v7.20 M269.02 498.00 v-3.60 M269.02 11.60 v3.60 M269.02 256.60 v7.20 M277.13 498.00 v-3.60 M277.13 11.60 v3.60 M277.13 256.60 v7.20 M285.24 498.00 v-3.60 M285.24 11.60 v3.60 M285.24 256.60 v7.20 M293.35 498.00 v-7.30 M293.35 11.60 v7.30 M293.35 252.90 v14.60 M301.46 498.00 v-3.60 M301.46 11.60 v3.60 M301.46 256.60 v7.20 M309.57 498.00 v-3.60 M309.57 11.60 v3.60 M309.57 256.60 v7.20 M317.69 498.00 v-3.60 M317.69 11.60 v3.60 M317.69 256.60 v7.20 M325.80 498.00 v-3.60 M325.80 11.60 v3.60 M325.80 256.60 v7.20 M333.91 498.00 v-7.30 M333.91 11.60 v7.30 M333.91 252.90 v14.60 M342.02 498.00 v-3.60 M342.02 11.60 v3.60 M342.02 256.60 v7.20 M350.13 498.00 v-3.60 M350.13 11.60 v3.60 M350.13 256.60 v7.20 M358.24 498.00 v-3.60 M358.24 11.60 v3.60 M358.24 256.60 v7.20 M366.36 498.00 v-3.60 M366.36 11.60 v3.60 M366.36 256.60 v7.20 M374.47 498.00 v-7.30 M374.47 11.60 v7.30 M374.47 252.90 v14.60 M382.58 498.00 v-3.60 M382.58 11.60 v3.60 M382.58 256.60 v7.20 M390.69 498.00 v-3.60 M390.69 11.60 v3.60 M390.69 256.60 v7.20 M398.80 498.00 v-3.60 M398.80 11.60 v3.60 M398.80 256.60 v7.20 M406.91 498.00 v-3.60 M406.91 11.60 v3.60 M406.91 256.60 v7.20 M415.03 498.00 v-7.30 M415.03 11.60 v7.30 M415.03 252.90 v14.60 M423.14 498.00 v-3.60 M423.14 11.60 v3.60 M423.14 256.60 v7.20 M431.25 498.00 v-3.60 M431.25 11.60 v3.60 M431.25 256.60 v7.20 M439.36 498.00 v-3.60 M439.36 11.60 v3.60 M439.36 256.60 v7.20 M447.47 498.00 v-3.60 M447.47 11.60 v3.60 M447.47 256.60 v7.20 M455.58 498.00 v-7.30 M455.58 11.60 v7.30 M455.58 252.90 v14.60 M463.70 498.00 v-3.60 M463.70 11.60 v3.60 M463.70 256.60 v7.20 M471.81 498.00 v-3.60 M471.81 11.60 v3.60 M471.81 256.60 v7.20 M479.92 498.00 v-3.60 M479.92 11.60 v3.60 M479.92 256.60 v7.20 M488.03 498.00 v-3.60 M488.03 11.60 v3.60 M488.03 256.60 v7.20 M496.14 498.00 v-7.30 M496.14 11.60 v7.30 M496.14 252.90 v14.60 M504.25 498.00 v-3.60 M504.25 11.60 v3.60 M504.25 256.60 v7.20 M512.37 498.00 v-3.60 M512.37 11.60 v3.60 M512.37 256.60 v7.20 M520.48 498.00 v-3.60 M520.48 11.60 v3.60 M520.48 256.60 v7.20 M528.59 498.00 v-3.60 M528.59 11.60 v3.60 M528.59 256.60 v7.20 M50.00 251.91 h3.60 M536.70 251.91 h-3.60 M50.00 268.13 h3.60 M536.70 268.13 h-3.60 M50.00 243.63 h3.60 M536.70 243.63 h-3.60 M50.00 276.05 h3.60 M536.70 276.05 h-3.60 M50.00 235.34 h3.60 M536.70 235.34 h-3.60 M50.00 283.98 h3.60 M536.70 283.98 h-3.60 M50.00 227.05 h3.60 M536.70 227.05 h-3.60 M50.00 291.91 h3.60 M536.70 291.91 h-3.60 M50.00 218.77 h7.30 M536.70 218.77 h-7.30 M50.00 299.83 h7.30 M536.70 299.83 h-7.30 M50.00 210.48 h3.60 M536.70 210.48 h-3.60 M50.00 307.76 h3.60 M536.70 307.76 h-3.60 M50.00 202.19 h3.60 M536.70 202.19 h-3.60 M50.00 315.69 h3.60 M536.70 315.69 h-3.60 M50.00 193.91 h3.60 M536.70 193.91 h-3.60 M50.00 323.61 h3.60 M536.70 323.61 h-3.60 M50.00 185.62 h3.60 M536.70 185.62 h-3.60 M50.00 331.54 h3.60 M536.70 331.54 h-3.60 M50.00 177.33 h7.30 M536.70 177.33 h-7.30 M50.00 339.47 h7.30 M536.70 339.47 h-7.30 M50.00 169.05 h3.60 M536.70 169.05 h-3.60 M50.00 347.39 h3.60 M536.70 347.39 h-3.60 M50.00 160.76 h3.60 M536.70 160.76 h-3.60 M50.00 355.32 h3.60 M536.70 355.32 h-3.60 M50.00 152.47 h3.60 M536.70 152.47 h-3.60 M50.00 363.25 h3.60 M536.70 363.25 h-3.60 M50.00 144.19 h3.60 M536.70 144.19 h-3.60 M50.00 371.17 h3.60 M536.70 371.17 h-3.60 M50.00 135.90 h7.30 M536.70 135.90 h-7.30 M50.00 379.10 h7.30 M536.70 379.10 h-7.30 M50.00 127.61 h3.60 M536.70 127.61 h-3.60 M50.00 387.03 h3.60 M536.70 387.03 h-3.60 M50.00 119.33 h3.60 M536.70 119.33 h-3.60 M50.00 394.95 h3.60 M536.70 394.95 h-3.60 M50.00 111.04 h3.60 M536.70 111.04 h-3.60 M50.00 402.88 h3.60 M536.70 402.88 h-3.60 M50.00 102.75 h3.60 M536.70 102.75 h-3.60 M50.00 410.81 h3.60 M536.70 410.81 h-3.60 M50.00 94.47 h7.30 M536.70 94.47 h-7.30 M50.00 418.73 h7.30 M536.70 418.73 h-7.30 M50.00 86.18 h3.60 M536.70 86.18 h-3.60 M50.00 426.66 h3.60 M536.70 426.66 h-3.60 M50.00 77.89 h3.60 M536.70 77.89 h-3.60 M50.00 434.59 h3.60 M536.70 434.59 h-3.60 M50.00 69.61 h3.60 M536.70 69.61 h-3.60 M50.00 442.51 h3.60 M536.70 442.51 h-3.60 M50.00 61.32 h3.60 M536.70 61.32 h-3.60 M50.00 450.44 h3.60 M536.70 450.44 h-3.60 M50.00 53.03 h7.30 M536.70 53.03 h-7.30 M50.00 458.37 h7.30 M536.70 458.37 h-7.30 M50.00 44.75 h3.60 M536.70 44.75 h-3.60 M50.00 466.29 h3.60 M536.70 466.29 h-3.60 M50.00 36.46 h3.60 M536.70 36.46 h-3.60 M50.00 474.22 h3.60 M536.70 474.22 h-3.60 M50.00 28.17 h3.60 M536.70 28.17 h-3.60 M50.00 482.15 h3.60 M536.70 482.15 h-3.60 M50.00 19.89 h3.60 M536.70 19.89 h-3.60 M50.00 490.07 h3.60 M536.70 490.07 h-3.60" stroke="#000" stroke-width="1.45" fill="none"/>
<g clip-path="url(#cu)">
<path d="M90.5 260.2 C92.0 259.1 96.8 255.3 99.5 253.8 C102.2 252.3 104.4 251.6 106.8 251.2 C109.2 250.7 112.0 250.7 114.0 251.2 C115.9 251.7 116.4 253.7 118.6 254.2 C120.7 254.7 124.6 254.9 126.8 254.2 C128.9 253.5 130.3 252.5 131.4 250.2 C132.4 247.8 132.5 242.9 133.0 240.1 C133.4 237.4 133.6 233.7 134.0 233.7 C134.3 233.7 134.6 237.4 135.0 240.1 C135.3 242.9 135.5 247.6 136.0 250.2 C136.4 252.8 137.1 255.2 137.7 255.7 C138.2 256.1 138.2 253.0 139.5 252.9 C140.7 252.7 143.4 254.4 144.9 254.7 C146.5 255.0 147.2 254.2 148.5 254.7 C149.9 255.2 151.9 256.6 153.1 257.5 C154.4 258.4 155.4 260.5 156.2 260.2 C157.1 259.9 157.6 257.1 158.4 255.7 C159.3 254.3 160.3 252.7 161.3 252.0 C162.4 251.2 163.7 250.9 164.9 251.2 C166.1 251.5 166.7 253.2 168.5 253.8 C170.4 254.4 173.9 254.0 175.9 254.7 C178.0 255.3 179.4 257.4 180.9 257.7 C182.4 258.0 183.5 257.1 184.9 256.6 C186.4 256.1 187.8 255.4 189.7 254.7 C191.6 254.0 193.9 252.9 196.3 252.2 C198.8 251.4 201.7 250.3 204.4 250.2 C207.1 250.0 209.9 251.0 212.6 251.4 C215.3 251.7 218.6 252.4 220.8 252.2 C223.0 251.9 223.8 250.5 225.7 249.8 C227.6 249.0 230.7 247.3 232.3 247.6 C233.9 247.8 234.1 250.5 235.5 251.4 C236.9 252.3 238.3 252.6 240.5 253.0 C242.7 253.3 246.1 253.7 248.6 253.4 C251.0 253.1 253.3 251.8 255.2 251.4 C257.1 251.0 258.5 250.8 260.1 250.9 C261.7 250.9 263.1 251.6 265.0 251.7 C266.9 251.8 269.2 251.8 271.4 251.4 C273.5 250.9 276.4 249.8 278.0 248.9 C279.5 247.9 280.1 245.7 280.8 245.7 C281.5 245.7 281.3 248.2 282.1 248.9 C282.8 249.5 284.2 249.9 285.4 249.7 C286.6 249.4 287.9 247.9 289.4 247.3 C290.9 246.6 292.9 245.8 294.4 245.7 C295.9 245.5 297.0 245.8 298.4 246.5 C299.7 247.1 301.0 248.6 302.5 249.7 C304.0 250.8 305.4 252.0 307.4 253.0 C309.3 254.0 311.8 254.9 314.0 255.5 C316.1 256.0 318.7 255.8 320.5 256.3 C322.2 256.8 323.2 257.7 324.6 258.4 C325.9 259.0 328.0 259.9 328.7 260.2" fill="none" stroke="#0000ff" stroke-width="1.5" stroke-linejoin="round"/>
<path d="M371.3 260.2 C376.1 260.1 394.1 259.9 399.8 259.8 C405.5 259.7 403.8 260.0 405.6 259.8 C407.4 259.6 409.1 258.7 410.5 258.8 C411.9 258.8 412.2 260.0 413.8 260.1 C415.5 260.1 418.8 259.6 420.4 259.1 C422.0 258.6 422.5 257.1 423.6 257.2 C424.7 257.3 425.8 259.6 426.9 259.6 C428.0 259.6 428.8 258.0 430.2 257.2 C431.6 256.4 433.5 255.2 435.1 254.7 C436.7 254.2 438.4 254.1 440.0 254.2 C441.6 254.3 443.3 254.9 444.9 255.5 C446.5 256.1 448.1 257.0 449.8 257.7 C451.5 258.4 453.6 259.6 455.3 259.8 C456.9 259.9 458.2 258.9 459.8 258.6 C461.3 258.3 461.0 258.1 464.5 258.0 C468.0 257.9 475.2 258.2 480.8 258.2 C486.3 258.2 492.1 258.0 497.8 258.0 C503.4 258.0 508.3 258.2 514.8 258.2 C521.2 258.2 532.7 258.1 536.2 258.1" fill="none" stroke="#0000ff" stroke-width="1.5" stroke-linejoin="round"/>
</g>
<g clip-path="url(#cd)">
<path d="M90.5 260.2 C92.0 261.2 96.8 264.9 99.5 266.3 C102.2 267.8 104.4 268.4 106.8 268.8 C109.2 269.2 112.0 269.3 114.0 268.8 C115.9 268.4 116.4 266.4 118.6 266.0 C120.7 265.5 124.6 265.3 126.8 266.0 C128.9 266.6 130.3 267.6 131.4 269.8 C132.4 272.0 132.5 276.8 133.0 279.4 C133.4 282.0 133.6 285.5 134.0 285.5 C134.3 285.5 134.6 282.0 135.0 279.4 C135.3 276.8 135.5 272.3 136.0 269.8 C136.4 267.3 137.1 264.9 137.7 264.5 C138.2 264.1 138.2 267.0 139.5 267.2 C140.7 267.4 143.4 265.8 144.9 265.5 C146.5 265.2 147.2 265.9 148.5 265.5 C149.9 265.0 151.9 263.7 153.1 262.8 C154.4 261.9 155.4 259.9 156.2 260.2 C157.1 260.5 157.6 263.2 158.4 264.5 C159.3 265.8 160.3 267.3 161.3 268.1 C162.4 268.8 163.7 269.1 164.9 268.8 C166.1 268.5 166.7 266.9 168.5 266.3 C170.4 265.8 173.9 266.1 175.9 265.5 C178.0 264.9 179.4 262.9 180.9 262.6 C182.4 262.3 183.5 263.2 184.9 263.7 C186.4 264.1 187.8 264.8 189.7 265.5 C191.6 266.2 193.9 267.2 196.3 267.9 C198.8 268.6 201.7 269.7 204.4 269.8 C207.1 269.9 209.9 269.0 212.6 268.6 C215.3 268.3 218.6 267.6 220.8 267.9 C223.0 268.1 223.8 269.4 225.7 270.2 C227.6 270.9 230.7 272.5 232.3 272.3 C233.9 272.0 234.1 269.5 235.5 268.6 C236.9 267.8 238.3 267.4 240.5 267.1 C242.7 266.8 246.1 266.5 248.6 266.7 C251.0 267.0 253.3 268.2 255.2 268.6 C257.1 269.0 258.5 269.2 260.1 269.1 C261.7 269.1 263.1 268.4 265.0 268.4 C266.9 268.3 269.2 268.2 271.4 268.6 C273.5 269.1 276.4 270.4 278.0 270.8 C279.6 271.3 280.1 271.2 280.9 271.1 C281.7 271.1 282.1 270.7 282.9 270.6 C283.6 270.4 284.3 269.9 285.4 270.3 C286.5 270.6 287.9 271.9 289.4 272.6 C290.9 273.2 292.9 274.0 294.4 274.1 C295.9 274.2 297.0 274.0 298.4 273.3 C299.7 272.7 301.0 271.3 302.5 270.3 C304.0 269.2 305.4 268.0 307.4 267.1 C309.3 266.2 311.8 265.2 314.0 264.7 C316.1 264.2 318.7 264.4 320.5 263.9 C322.2 263.5 323.2 262.5 324.6 261.9 C325.9 261.3 328.0 260.5 328.7 260.2" fill="none" stroke="#0000ff" stroke-width="1.5" stroke-linejoin="round"/>
<path d="M371.3 260.2 C376.1 260.3 394.1 260.5 399.8 260.6 C405.5 260.6 403.8 260.4 405.6 260.6 C407.4 260.7 409.1 261.6 410.5 261.5 C411.9 261.5 412.2 260.3 413.8 260.3 C415.5 260.2 418.8 260.8 420.4 261.3 C422.0 261.7 422.5 263.2 423.6 263.1 C424.7 263.0 425.8 260.8 426.9 260.8 C428.0 260.8 428.8 262.3 430.2 263.1 C431.6 263.9 433.5 265.0 435.1 265.5 C436.7 266.0 438.4 266.1 440.0 266.0 C441.6 265.8 443.3 265.3 444.9 264.7 C446.5 264.1 448.1 263.3 449.8 262.6 C451.5 261.9 453.6 260.7 455.3 260.6 C456.9 260.4 458.2 261.4 459.8 261.7 C461.3 262.0 461.0 262.2 464.5 262.3 C468.0 262.4 475.2 262.1 480.8 262.1 C486.3 262.1 492.1 262.3 497.8 262.3 C503.4 262.3 508.3 262.1 514.8 262.1 C521.2 262.1 532.7 262.2 536.2 262.2" fill="none" stroke="#0000ff" stroke-width="1.5" stroke-linejoin="round"/>
</g>
<g font-family="'Liberation Serif', 'Times New Roman', serif" font-size="20.6" fill="#000" stroke="#000" stroke-width="0.1">
<text x="50.0" y="524.4" text-anchor="middle">−7</text>
<text x="90.6" y="524.4" text-anchor="middle">−6</text>
<text x="131.1" y="524.4" text-anchor="middle">−5</text>
<text x="171.7" y="524.4" text-anchor="middle">−4</text>
<text x="212.2" y="524.4" text-anchor="middle">−3</text>
<text x="252.8" y="524.4" text-anchor="middle">−2</text>
<text x="293.4" y="524.4" text-anchor="middle">−1</text>
<text x="336.7" y="524.4" text-anchor="middle">0</text>
<text x="377.3" y="524.4" text-anchor="middle">1</text>
<text x="417.8" y="524.4" text-anchor="middle">2</text>
<text x="458.4" y="524.4" text-anchor="middle">3</text>
<text x="498.9" y="524.4" text-anchor="middle">4</text>
<text x="539.5" y="524.4" text-anchor="middle">5</text>
<text x="40.5" y="268.1" text-anchor="end">0</text>
<text x="40.5" y="226.7" text-anchor="end">1</text>
<text x="40.5" y="308.2" text-anchor="end">1</text>
<text x="40.5" y="185.2" text-anchor="end">2</text>
<text x="40.5" y="347.9" text-anchor="end">2</text>
<text x="40.5" y="143.8" text-anchor="end">3</text>
<text x="40.5" y="387.5" text-anchor="end">3</text>
<text x="40.5" y="102.4" text-anchor="end">4</text>
<text x="40.5" y="427.1" text-anchor="end">4</text>
<text x="40.5" y="60.9" text-anchor="end">5</text>
<text x="40.5" y="466.8" text-anchor="end">5</text>
<text x="40.5" y="19.5" text-anchor="end">6</text>
<text x="40.5" y="506.4" text-anchor="end">6</text>
<text x="464.2" y="35.1" text-anchor="end" font-size="17.9">Total</text>
<path d="M473.5 28.0 H518.5" stroke="#000" stroke-width="1.5" fill="none" stroke-dasharray="5.8 4.8"/>
<text x="464.2" y="53.5" text-anchor="end" font-size="17.9">Mn1-3d</text>
<path d="M473.5 46.4 H518.5" stroke="#ff0000" stroke-width="1.5" fill="none"/>
<text x="464.2" y="71.9" text-anchor="end" font-size="17.9">Mn2-3d</text>
<path d="M473.5 64.8 H518.5" stroke="#ffa500" stroke-width="1.5" fill="none"/>
<text x="464.2" y="90.3" text-anchor="end" font-size="17.9">Te-5p</text>
<path d="M473.5 83.2 H518.5" stroke="#0000ff" stroke-width="1.5" fill="none"/>
</g>
<g font-family="'Liberation Serif', 'Times New Roman', serif" font-size="20.3" fill="#000" stroke="#000" stroke-width="0.1">
<text x="293.4" y="543" text-anchor="middle">Energy (eV)</text>
<text transform="translate(22.6 265) rotate(-90)" text-anchor="middle" font-size="20.55">DOS (state/eV/f.u.)</text>
</g>
</svg>
</body></html>
